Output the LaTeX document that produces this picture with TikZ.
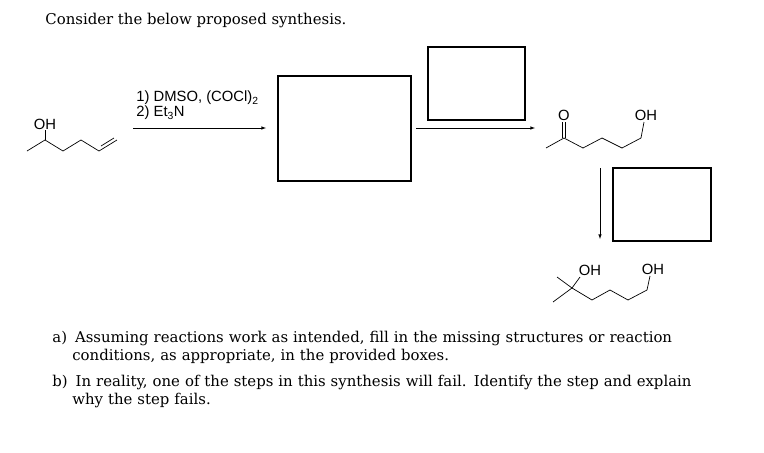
\documentclass[tikz,border=0pt]{standalone}
\usepackage{fontspec}
\setmainfont{DejaVu Serif}
\newfontfamily\chemfont{Liberation Sans}
\begin{document}
\begin{tikzpicture}[x=1pt,y=-1pt,line width=0.8pt,
  bond/.style={line width=0.7pt},
  lbl/.style={font=\chemfont\fontsize{14.8}{15}\selectfont,inner sep=0pt},
  answer/.style={draw,line width=1.2pt},
  txt/.style={font=\fontsize{14.9}{18}\selectfont,anchor=west,inner sep=0pt,align=left}]
\useasboundingbox (0,0) rectangle (764,453);
% question
\node[txt] (title) at (45,20) {Consider the below proposed synthesis.};

% starting alcohol
\draw[bond] (27,151) -- (45,140) -- (63,151) -- (81,140) -- (99,151) -- (117,140);
\draw[bond] (101,146) -- (114,138);
\node[lbl] (oh1) at (45,124) {OH};
\draw[bond] (45,140) -- (oh1.south);

% step 1
\coordinate (a1s) at (133,128);
\coordinate (a1e) at (266,128);
\draw[-latex,line width=0.6pt] (a1s) -- (a1e);
\node[lbl,anchor=west] (cond1) at (136,98) {1) DMSO, (COCl)\textsubscript{2}};
\node[lbl,anchor=west] (cond2) at (136,113) {2) Et\textsubscript{3}N};

% boxes
\draw[answer] (278,76) rectangle (411,181);
\draw[answer] (428,47) rectangle (525,120);
\draw[answer] (613,168) rectangle (711,241);

% step 2
\coordinate (a2s) at (416,128);
\coordinate (a2e) at (535,128);
\draw[-latex,line width=0.6pt] (a2s) -- (a2e);

% hydroxy ketone
\draw[bond] (546,148) -- (564,138) -- (583,148) -- (602,138) -- (622,148) -- (641,138);
\node[lbl] (o2) at (564,115) {O};
\draw[bond] (562.5,138) -- (562.5,122);
\draw[bond] (565.5,138) -- (565.5,122);
\node[lbl] (oh2) at (646,115) {OH};
\draw[bond] (641,138) -- (644,122);

% step 3
\coordinate (a3s) at (600,168);
\coordinate (a3e) at (600,239);
\draw[-latex,line width=0.6pt] (a3s) -- (a3e);

% diol
\draw[bond] (557,277) -- (572,288) -- (553,302);
\draw[bond] (572,288) -- (592,300) -- (610,290) -- (628,300) -- (647,290);
\node[lbl] (oh3) at (590,270) {OH};
\draw[bond] (572,288) -- (580,277);
\node[lbl] (oh4) at (653,269) {OH};
\draw[bond] (647,290) -- (650,276);

% parts
\node[txt,text width=700pt] (qa) at (52,347) {a)\hspace{8pt}Assuming reactions work as intended, fill in the missing structures or reaction\\\hspace{20pt}conditions, as appropriate, in the provided boxes.};
\node[txt,text width=700pt] (qb) at (52,391) {b)\hspace{8pt}In reality, one of the steps in this synthesis will fail. Identify the step and explain\\\hspace{20pt}why the step fails.};
\end{tikzpicture}
\end{document}
